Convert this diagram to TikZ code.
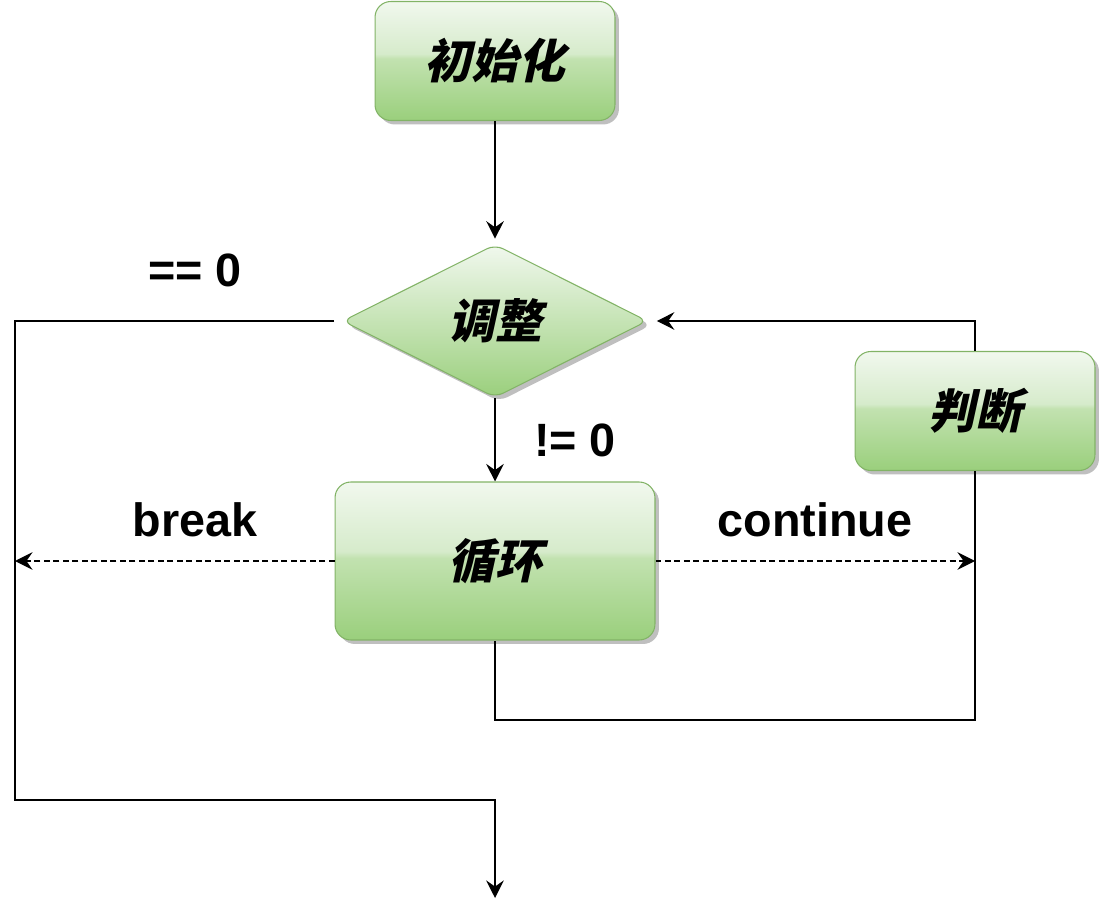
\documentclass[tikz,border=0pt]{standalone}
\usepackage{fontspec}
\setmainfont{Liberation Sans}
\newfontfamily\cjk[FakeSlant=0.22]{Noto Sans CJK SC}
\usepackage{tikz}
\usetikzlibrary{shapes.geometric,shadows,arrows.meta}

\definecolor{gtop}{HTML}{F1F8EE}
\definecolor{gglass}{HTML}{D6EBCB}
\definecolor{gedge}{HTML}{C2E2B0}
\definecolor{gbot}{HTML}{9ACF7C}
\definecolor{gline}{HTML}{82B366}
\pgfdeclareverticalshading{glass}{100bp}{color(0bp)=(gbot); color(25bp)=(gbot);
  color(51bp)=(gedge); color(53bp)=(gglass); color(75bp)=(gtop); color(100bp)=(gtop)}

\begin{document}
\begin{tikzpicture}
          [x = 0.02cm, y = -0.02cm, line width = 0.8pt,
           tip/.style = {-{Stealth[length = 10pt, width = 10pt, inset = 3.5pt]}},
           shade/.style = {draw = gline, line width = 0.6pt,
             drop shadow = {shadow xshift = 0.08cm, shadow yshift = -0.08cm,
               fill = black, opacity = 0.25},
             font = \cjk\bfseries\fontsize{26.6}{32}\selectfont},
           box/.style = {shade, rectangle, rounded corners = 9pt, shading = glass},
           choice/.style = {shade, diamond, aspect = 2, inner sep = 0pt,
             rounded corners = 5pt, top color = gtop, bottom color = gbot,
             minimum width = 6.1cm, minimum height = 3.06cm},
           tag/.style = {font = \bfseries\fontsize{26.6}{32}\selectfont},
           dots/.style = {dash pattern = on 3.4pt off 2pt}]
          \useasboundingbox (0,0) rectangle (1112,918);
          \node[box, minimum width = 4.8cm, minimum height = 2.38cm] (init) at (495,61) {初始化};
          \node[choice] (adjust) at (495,321) {调整};
          \node[box, minimum width = 6.4cm, minimum height = 3.16cm] (loop) at (495,561) {循环};
          \node[box, minimum width = 4.8cm, minimum height = 2.38cm] (judge) at (975,411) {判断};
          \coordinate (bottom) at (15,800);
          \coordinate (exit) at (495,898);
          \coordinate (brk) at (15,561);
          \coordinate (cont) at (975,561);
          \coordinate (back) at (975,720);
          \draw[tip, shorten >= 3pt] (init) -- (adjust);
          \draw[tip] ([xshift = -0.16cm]adjust.west) -| (bottom) -| (exit);
          \draw[tip] (adjust) -- (loop);
          \draw[tip, dots] (loop.west) -- (brk);
          \draw[tip, dots] (loop.east) -- (cont);
          \draw[tip, shorten >= 5pt] (judge.north) |- (adjust.east);
          \draw (judge.south) -- (back) -| (loop.south);
          \node[tag] (eq) at (195,270) {== 0};
          \node[tag] (ne) at (575,440) {!= 0};
          \node[tag] (brklabel) at (195,520) {break};
          \node[tag] (contlabel) at (815,520) {continue};
        \end{tikzpicture}
\end{document}
